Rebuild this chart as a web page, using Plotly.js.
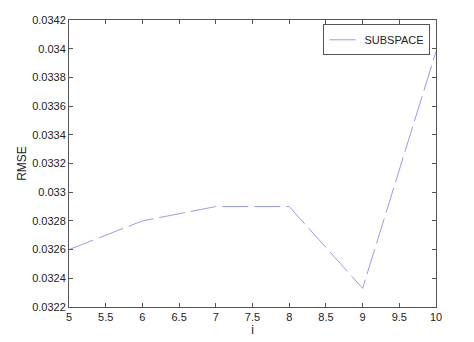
<!DOCTYPE html>
<html><head><meta charset="utf-8">
<script src="https://cdn.plot.ly/plotly-3.0.1.min.js"></script>
<style>html,body{margin:0;padding:0;background:#fff}</style>
</head><body>
<div id="chart" style="width:474px;height:342px"></div>
<script>
const iValues = [5, 6, 7, 8, 9, 10];
const rmseValues = [0.0326, 0.0328, 0.0329, 0.0329, 0.03233, 0.03398];
const seriesName = 'SUBSPACE';
const xTicks = [5, 5.5, 6, 6.5, 7, 7.5, 8, 8.5, 9, 9.5, 10];
const yTicks = [0.0322, 0.0324, 0.0326, 0.0328, 0.033, 0.0332, 0.0334, 0.0336, 0.0338, 0.034, 0.0342];

const font = {family: 'Liberation Sans, Arial, sans-serif', size: 11, color: '#222'};
Plotly.newPlot('chart', [{
  x: iValues, y: rmseValues, name: seriesName, type: 'scatter', mode: 'lines',
  line: {color: '#9a9af0', width: 1, dash: '26px,6px'}, showlegend: true
}], {
  width: 474, height: 342,
  margin: {l: 69, r: 38, t: 20, b: 35},
  paper_bgcolor: '#fff', plot_bgcolor: '#fff',
  font: font,
  showlegend: true,
  legend: {x: 0.985, y: 0.985, xanchor: 'right', yanchor: 'top', bordercolor: '#555', borderwidth: 1,
           bgcolor: '#fff', font: {family: font.family, size: 11, color: '#222'}},
  xaxis: {range: [5, 10], tickvals: xTicks, ticktext: xTicks.map(String), ticks: 'inside', ticklen: 4,
          tickcolor: '#555', showline: true, linecolor: '#555', mirror: 'ticks', showgrid: false, zeroline: false,
          title: {text: 'i', font: {family: font.family, size: 12, color: '#222'}, standoff: 0}},
  yaxis: {range: [0.0322, 0.0342], tickvals: yTicks, ticktext: yTicks.map(v => String(+v.toFixed(4))), ticks: 'inside', ticklen: 4,
          tickcolor: '#555', showline: true, linecolor: '#555', mirror: 'ticks', showgrid: false, zeroline: false,
          title: {text: 'RMSE', font: {family: font.family, size: 12, color: '#222'}, standoff: 2}}
}, {displayModeBar: false});
</script>
</body></html>
